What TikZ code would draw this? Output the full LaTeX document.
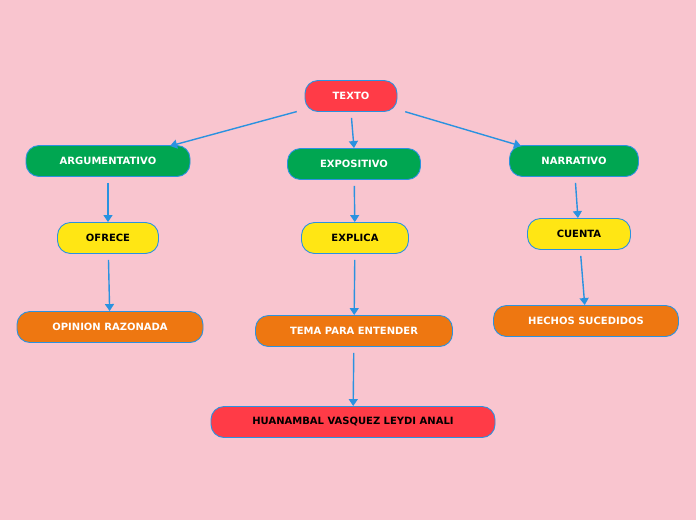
\documentclass[tikz,border=0pt]{standalone}
\usepackage{fontspec}
\setmainfont{DejaVu Sans}
\usetikzlibrary{arrows.meta}
\definecolor{bg}{HTML}{F9C5CF}
\definecolor{rd}{HTML}{FF3B47}
\definecolor{gn}{HTML}{00A651}
\definecolor{yl}{HTML}{FFE614}
\definecolor{og}{HTML}{EE7711}
\definecolor{bl}{HTML}{2A92E0}
\tikzset{
 box/.style={draw=bl,line width=0.9pt,rounded corners=13pt,minimum height=31pt,inner sep=0pt,font=\bfseries\fontsize{10}{12}\selectfont},
 rbox/.style={box,fill=rd,text=white},
 gbox/.style={box,fill=gn,text=white},
 ybox/.style={box,fill=yl,text=black},
 obox/.style={box,fill=og,text=white},
 arr/.style={draw=bl,line width=1.4pt,-{Triangle[length=7pt,width=9pt]},shorten <=6pt}
}
\begin{document}
\begin{tikzpicture}[x=1pt,y=-1pt]
\fill[bg] (0,0) rectangle (696,520);
\useasboundingbox (0,0) rectangle (696,520);
\node[rbox,minimum width=92pt] (t) at (351,96) {TEXTO};
\node[gbox,minimum width=164pt] (a) at (108,161) {ARGUMENTATIVO};
\node[gbox,minimum width=133pt] (e) at (354,164) {EXPOSITIVO};
\node[gbox,minimum width=129pt] (n) at (574,161) {NARRATIVO};
\node[ybox,minimum width=101pt] (o) at (108,238) {OFRECE};
\node[ybox,minimum width=107pt] (x) at (355,238) {EXPLICA};
\node[ybox,minimum width=103pt] (c) at (579,234) {CUENTA};
\node[obox,minimum width=186pt] (op) at (110,327) {OPINION RAZONADA};
\node[obox,minimum width=197pt] (tm) at (354,331) {TEMA PARA ENTENDER};
\node[obox,minimum width=185pt] (h) at (586,321) {HECHOS SUCEDIDOS};
\node[rbox,text=black,minimum width=284pt] (hu) at (353,422) {HUANAMBAL VASQUEZ LEYDI ANALI};
\draw[arr] (t.west) ++(-2,14) -- (170,146);
\draw[arr] (t.south) -- (e.north);
\draw[arr] (t.east) ++(2,14) -- (521,146);
\draw[arr] (a) -- (o);
\draw[arr] (e) -- (x);
\draw[arr] (n) -- (c);
\draw[arr] (o) -- (op);
\draw[arr] (x) -- (tm);
\draw[arr] (c) -- (h);
\draw[arr] (tm) -- (hu);
\end{tikzpicture}
\end{document}
